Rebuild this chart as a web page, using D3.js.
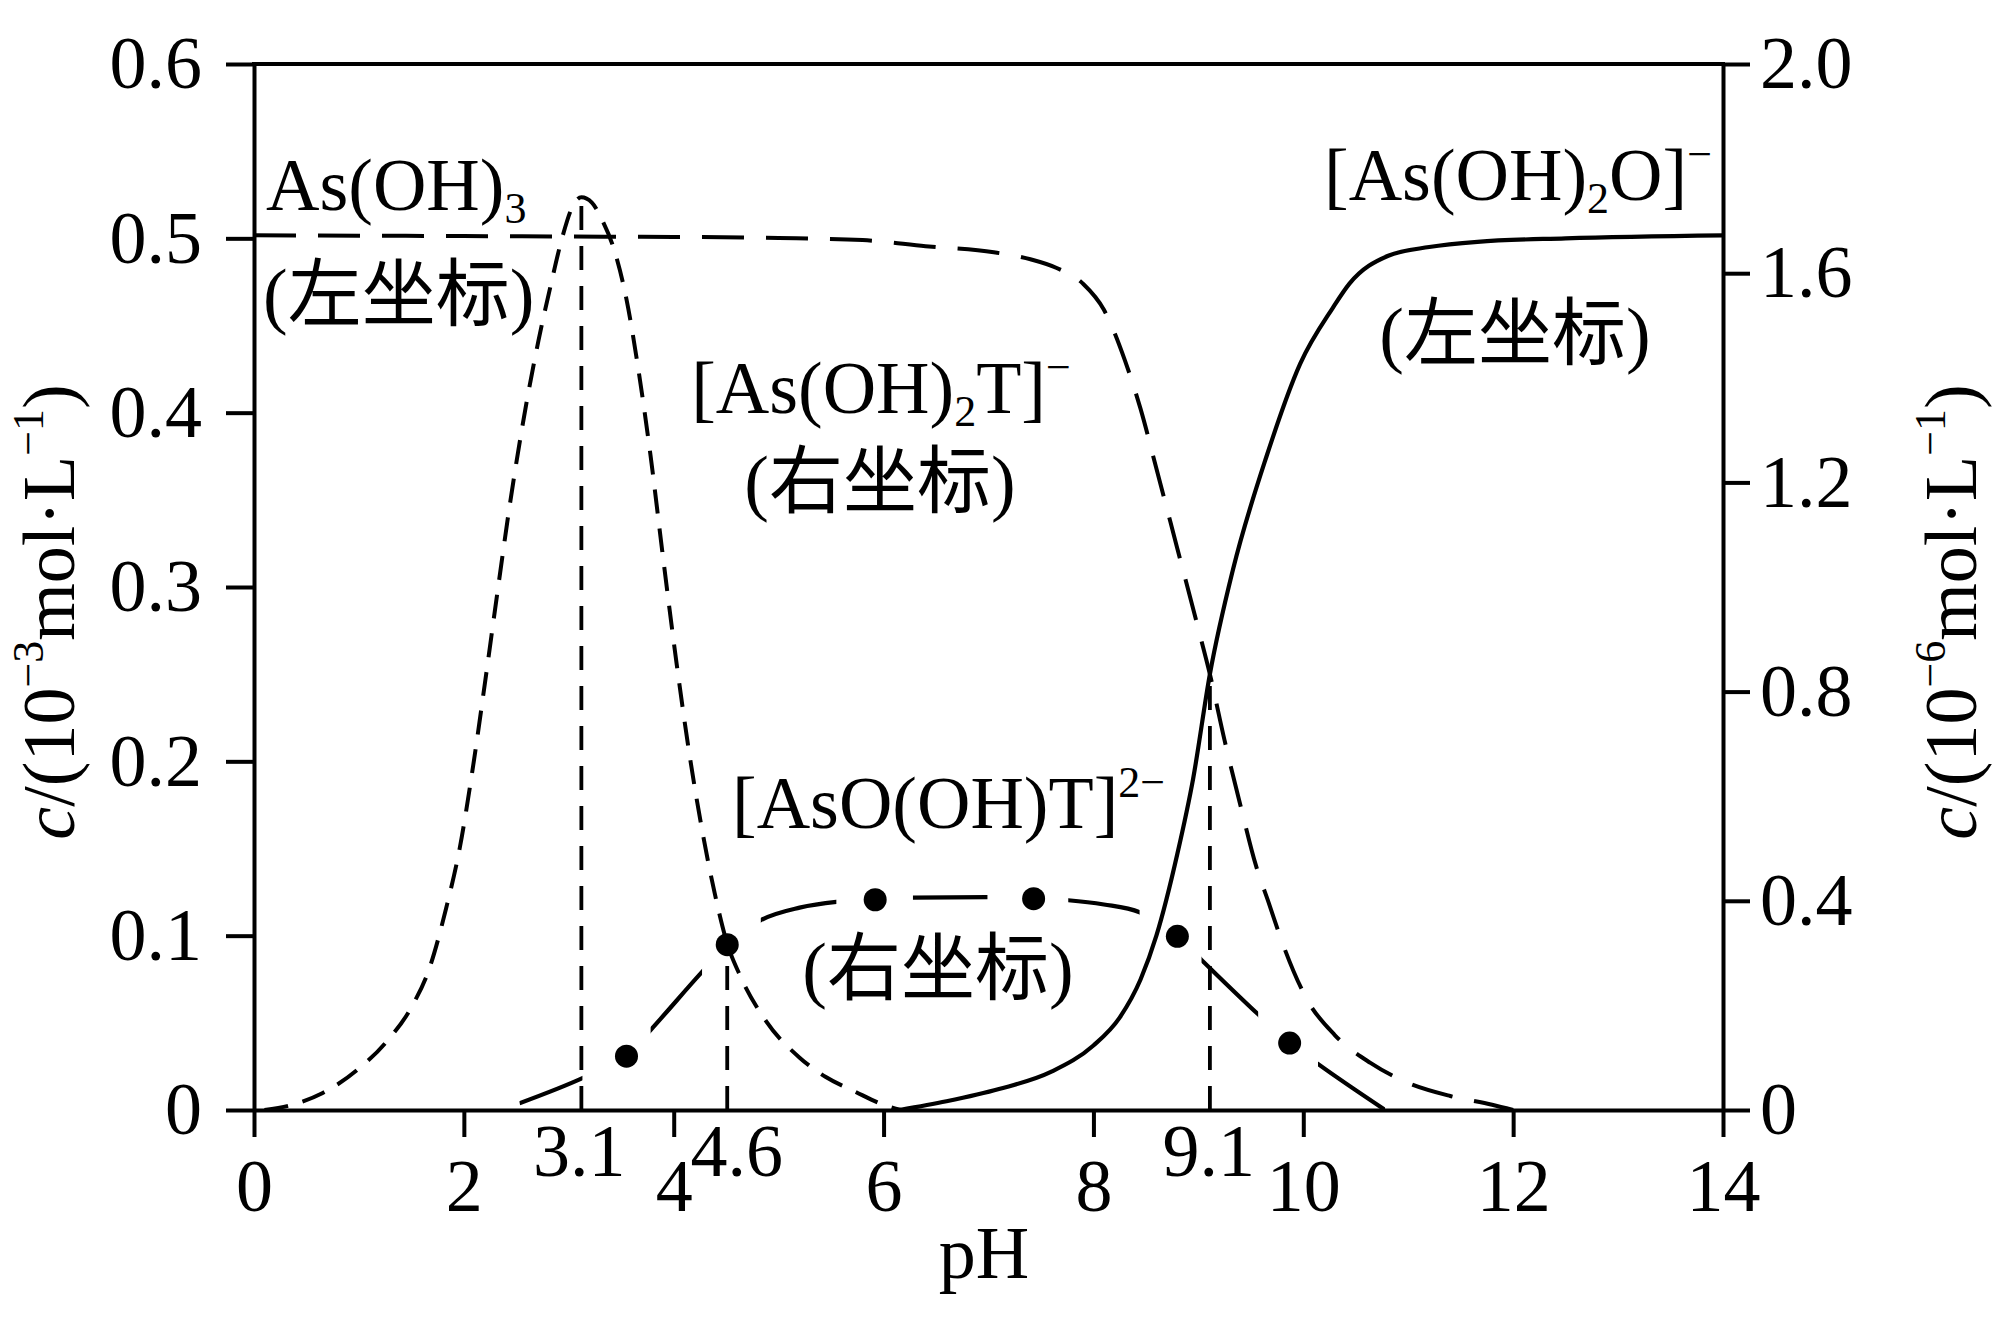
<!DOCTYPE html>
<html>
<head>
<meta charset="utf-8">
<script src="https://cdn.jsdelivr.net/npm/d3@7"></script>
<style>
  html, body { margin: 0; padding: 0; background: #fff; }
  svg { display: block; }
</style>
</head>
<body>
<svg id="chart" width="1994" height="1330"></svg>
<script>
// ---------------- data ----------------
const xTicks = [0, 2, 4, 6, 8, 10, 12, 14];
const leftTicks = [0, 0.1, 0.2, 0.3, 0.4, 0.5, 0.6];
const rightTicks = [0, 0.4, 0.8, 1.2, 1.6, 2.0];

// As(OH)3, left axis (long dashes)
const asOH3 = [[0,0.5017],[1,0.5015],[2,0.5013],[3,0.501],[4,0.5008],[5,0.5002],[5.8,0.499],[6.4,0.4955],
  [7.05,0.492],[7.4,0.488],[7.65,0.483],[7.9,0.474],[8.1,0.459],[8.3,0.43],[8.45,0.402],[8.6,0.368],
  [8.8,0.322],[9.0,0.276],[9.11,0.25],[9.25,0.212],[9.4,0.175],[9.55,0.14],[9.67,0.119],[9.8,0.096],
  [10.03,0.064],[10.3,0.043],[10.64,0.027],[10.98,0.016],[11.4,0.008],[11.8,0.003],[12.0,0]];

// [As(OH)2O]-, left axis (solid)
const asOH2O = [[6.15,0],[6.6,0.005],[7.1,0.012],[7.6,0.022],[8.0,0.037],[8.25,0.053],[8.45,0.075],
  [8.6,0.1],[8.8,0.147],[8.95,0.19],[9.11,0.25],[9.33,0.31],[9.65,0.375],[9.97,0.428],[10.28,0.46],
  [10.44,0.474],[10.81,0.49],[11.2,0.495],[11.66,0.498],[12.5,0.5],[14,0.5017]];

// [As(OH)2T]-, right axis (short dashes)
const asOH2T = [[0.1,0],[0.4,0.012],[0.65,0.032],[0.98,0.076],[1.26,0.13],[1.51,0.2],[1.67,0.27],
  [1.83,0.385],[1.96,0.5],[2.09,0.66],[2.2,0.815],[2.32,0.99],[2.44,1.16],[2.56,1.31],[2.71,1.47],
  [2.82,1.57],[2.94,1.67],[3.03,1.725],[3.12,1.745],[3.22,1.735],[3.31,1.705],[3.44,1.64],[3.55,1.55],
  [3.66,1.42],[3.78,1.25],[3.89,1.07],[4.03,0.85],[4.15,0.68],[4.28,0.525],[4.39,0.415],[4.51,0.318],
  [4.63,0.258],[4.88,0.17],[5.2,0.1],[5.45,0.063],[5.73,0.035],[6.0,0.01],[6.17,0]];

// [AsO(OH)T]2-, right axis (dash + dot)
const asOOHT = [[2.53,0.013],[3.13,0.061],[3.55,0.103],[3.78,0.153],[4.27,0.264],[4.51,0.316],
  [4.83,0.363],[5.2,0.387],[5.55,0.398],[5.92,0.402],[6.28,0.406],[6.99,0.407],[7.43,0.404],
  [7.76,0.401],[8.1,0.393],[8.44,0.378],[8.8,0.332],[9.03,0.287],[9.57,0.183],[9.87,0.128],
  [10.14,0.088],[10.78,0]];
const asOOHTDots = [[3.55,0.103],[4.51,0.316],[5.92,0.402],[7.43,0.404],[8.8,0.332],[9.87,0.128]];
const asOOHTSegments = [[2.53,3.13],[3.78,4.27],[4.83,5.55],[6.28,6.99],[7.76,8.44],[9.03,9.57],[10.14,10.78]];

// vertical guides: where drawn, its label, label position, top value and axis
const guidePH = [3.12, 4.51, 9.11];
const guideLabels = ["3.1", "4.6", "9.1"];
const guideLabelPH = [3.1, 4.6, 9.1];
const guideTop = [1.745, 0.316, 0.25];
const guideAxis = ["R", "R", "L"];

// ---------------- layout ----------------
const FONT = '"Liberation Serif", "Times New Roman", "Noto Sans CJK SC", serif';
const FS = 74, SFS = 44, SUP = -31, SUB = 13;
const svg = d3.select("#chart");
const x = d3.scaleLinear().domain([0, 14]).range([254, 1723]);
const yL = d3.scaleLinear().domain([0, 0.6]).range([1110, 64]);
const yR = d3.scaleLinear().domain([0, 2]).range([1110, 64]);
const fmt = d => d === 0 ? "0" : d3.format(".1f")(d);

function styleAxis(g) {
  g.attr("font-family", FONT).attr("font-size", FS);
  g.selectAll("path.domain").attr("stroke", "#000").attr("stroke-width", 4);
  g.selectAll(".tick line").attr("stroke", "#000").attr("stroke-width", 4);
  g.selectAll(".tick text").attr("fill", "#000");
}

// frame top line
svg.append("line").attr("x1", x(0)).attr("x2", x(14)).attr("y1", yL(0.6)).attr("y2", yL(0.6))
  .attr("stroke", "#000").attr("stroke-width", 4).attr("stroke-linecap", "square");

svg.append("g").attr("transform", `translate(${x(0)},0)`)
  .call(d3.axisLeft(yL).tickValues(leftTicks).tickFormat(fmt).tickSize(28).tickPadding(24).tickSizeOuter(0))
  .call(styleAxis);
svg.append("g").attr("transform", `translate(${x(14)},0)`)
  .call(d3.axisRight(yR).tickValues(rightTicks).tickFormat(fmt).tickSize(27).tickPadding(10).tickSizeOuter(0))
  .call(styleAxis);
svg.append("g").attr("transform", `translate(0,${yL(0)})`)
  .call(d3.axisBottom(x).tickValues(xTicks).tickFormat(d3.format("d")).tickSize(27).tickPadding(21).tickSizeOuter(0))
  .call(styleAxis);

// guide labels
svg.selectAll("text.guideLabel").data(guideLabelPH).join("text")
  .attr("class", "guideLabel")
  .attr("x", d => x(d)).attr("y", 1176).attr("text-anchor", "middle")
  .attr("font-family", FONT).attr("font-size", FS).text((d, i) => guideLabels[i]);

// vertical guides
svg.selectAll("line.guide").data(guidePH).join("line")
  .attr("class", "guide")
  .attr("x1", d => x(d)).attr("x2", d => x(d))
  .attr("y1", yL(0))
  .attr("y2", (d, i) => guideAxis[i] === "R" ? yR(guideTop[i]) : yL(guideTop[i]))
  .attr("stroke", "#000").attr("stroke-width", 3.8).attr("stroke-dasharray", "24,16");

// curves
const lineL = d3.line().x(d => x(d[0])).y(d => yL(d[1])).curve(d3.curveMonotoneX);
const lineR = d3.line().x(d => x(d[0])).y(d => yR(d[1])).curve(d3.curveMonotoneX);

svg.append("path").attr("d", lineL(asOH3)).attr("fill", "none").attr("stroke", "#000")
  .attr("stroke-width", 4).attr("stroke-dasharray", "42,22");
svg.append("path").attr("d", lineL(asOH2O)).attr("fill", "none").attr("stroke", "#000")
  .attr("stroke-width", 4.2);
svg.append("path").attr("d", lineR(asOH2T)).attr("fill", "none").attr("stroke", "#000")
  .attr("stroke-width", 4).attr("stroke-dasharray", "24,15");

// dash-dot curve: solid pieces between the dots via clip rects
const clip = svg.append("defs").append("clipPath").attr("id", "segClip");
clip.selectAll("rect").data(asOOHTSegments).join("rect")
  .attr("x", d => x(d[0])).attr("width", d => x(d[1]) - x(d[0]))
  .attr("y", 0).attr("height", 1330);
svg.append("path").attr("d", lineR(asOOHT)).attr("fill", "none").attr("stroke", "#000")
  .attr("stroke-width", 4.2).attr("clip-path", "url(#segClip)");
svg.selectAll("circle.dot").data(asOOHTDots).join("circle")
  .attr("class", "dot").attr("cx", d => x(d[0])).attr("cy", d => yR(d[1])).attr("r", 11.5).attr("fill", "#000");

// ---------------- text ----------------
function rich(x0, y0, parts, anchor, transform) {
  const t = svg.append("text").attr("x", x0).attr("y", y0)
    .attr("font-family", FONT).attr("font-size", FS).attr("text-anchor", anchor || "start");
  if (transform) t.attr("transform", transform);
  let cur = 0;
  parts.forEach(p => {
    const shift = p.sup ? SUP : p.sub ? SUB : 0;
    const ts = t.append("tspan").text(p.t);
    if (shift - cur !== 0) ts.attr("dy", shift - cur);
    if (p.sup || p.sub) ts.attr("font-size", SFS);
    if (p.i) ts.attr("font-style", "italic");
    cur = shift;
  });
  return t;
}

rich(266, 210, [{t: "As(OH)"}, {t: "3", sub: 1}]);
rich(263, 320, [{t: "(左坐标)"}]);

rich(881, 413, [{t: "[As(OH)"}, {t: "2", sub: 1}, {t: "T]"}, {t: "−", sup: 1}], "middle");
rich(880, 507, [{t: "(右坐标)"}], "middle");

rich(732, 828, [{t: "[AsO(OH)T]"}, {t: "2−", sup: 1}]);
rich(938, 994, [{t: "(右坐标)"}], "middle");

rich(1712, 200, [{t: "[As(OH)"}, {t: "2", sub: 1}, {t: "O]"}, {t: "−", sup: 1}], "end");
rich(1515, 359, [{t: "(左坐标)"}], "middle");

rich(984, 1278, [{t: "pH"}], "middle");

const titleParts = e => [{t: "c", i: 1}, {t: "/(10"}, {t: "−" + e, sup: 1}, {t: "mol·L"}, {t: "−1", sup: 1}, {t: ")"}];
rich(0, 0, titleParts("3"), "middle", "translate(74,612) rotate(-90)");
rich(0, 0, titleParts("6"), "middle", "translate(1976,612) rotate(-90)");
</script>
</body>
</html>
